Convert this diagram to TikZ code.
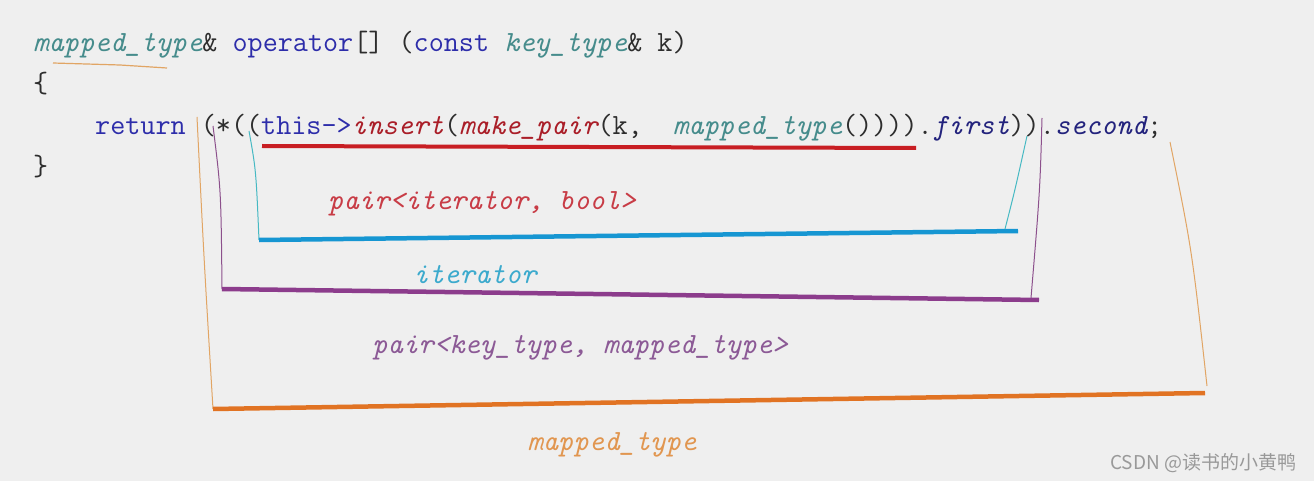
\documentclass[tikz,border=0pt]{standalone}
\usepackage{fontspec}
\newfontfamily\cjk{Noto Sans CJK SC}
\usetikzlibrary{positioning}
\definecolor{bg}{RGB}{239,239,239}
\definecolor{ink}{RGB}{45,45,45}
\definecolor{kwblue}{RGB}{45,45,170}
\definecolor{typeteal}{RGB}{70,140,140}
\definecolor{funred}{RGB}{170,30,40}
\definecolor{memblue}{RGB}{35,35,125}
\definecolor{redbar}{RGB}{200,30,35}
\definecolor{cyanbar}{RGB}{22,150,210}
\definecolor{cyanarm}{RGB}{70,185,195}
\definecolor{purpbar}{RGB}{140,60,140}
\definecolor{purparm}{RGB}{140,80,140}
\definecolor{orangebar}{RGB}{225,115,35}
\definecolor{orangearm}{RGB}{225,165,100}
\definecolor{redlbl}{RGB}{200,60,70}
\definecolor{cyanlbl}{RGB}{60,170,205}
\definecolor{purplbl}{RGB}{140,90,150}
\definecolor{orangelbl}{RGB}{225,150,80}
\newcommand\ckw[1]{{\color{kwblue}#1}}
\newcommand\ctype[1]{{\itshape\color{typeteal}#1}}
\newcommand\cfun[1]{{\itshape\color{funred}#1}}
\newcommand\cmem[1]{{\itshape\color{memblue}#1}}
\begin{document}
\begin{tikzpicture}[x=1pt,y=-1pt,
code/.style={anchor=base west,inner sep=0pt,text=ink,
  font=\ttfamily\fontsize{29.3}{35}\selectfont},
note/.style={anchor=base,inner sep=0pt,
  font=\ttfamily\itshape\fontsize{29.3}{35}\selectfont},
bar/.style={line width=4.5pt},
arm/.style={line width=1pt}]
\fill[bg] (0,0) rectangle (1314,481);
\useasboundingbox (0,0) rectangle (1314,481);
% the code
\node[code] (L1) at (33,52) {\ctype{mapped\_type}\& \ckw{operator}[] (\ckw{const} \ctype{key\_type}\& k)};
\node[code] (L2) at (33,93) {\{};
\node[code] (L3) at (95,135) {\ckw{return} (*((\ckw{this->}\cfun{insert}(\cfun{make\_pair}(k,\ \ \ctype{mapped\_type}()))).\cmem{first})).\cmem{second};};
\node[code] (L4) at (33,176) {\}};
% the notes
\node[note,text=redlbl] (N1) at (482,210) {pair<iterator, bool>};
\node[note,text=cyanlbl] (N2) at (475,283) {iterator};
\node[note,text=purplbl] (N3) at (580,353) {pair<key\_type, mapped\_type>};
\node[note,text=orangelbl] (N4) at (612,450) {mapped\_type};
\node[anchor=base west,inner sep=0pt,text=gray!80,
  font=\cjk\fontsize{19}{22}\selectfont] (WM) at (1110,469) {CSDN @读书的小黄鸭};
% bracket corners
\coordinate (u1) at (53,63);
\coordinate (u2) at (167,68);
\coordinate (r1) at (262,146);
\coordinate (r2) at (916,148);
\coordinate (c1) at (249,131);
\coordinate (c2) at (259,240);
\coordinate (c3) at (1018,231);
\coordinate (c4) at (1005,229);
\coordinate (c5) at (1027,136);
\coordinate (p1) at (213,126);
\coordinate (p2) at (222,289);
\coordinate (p3) at (1039,300);
\coordinate (p4) at (1031,298);
\coordinate (p5) at (1042,118);
\coordinate (o1) at (197,117);
\coordinate (o2) at (213,409);
\coordinate (o3) at (1205,393);
\coordinate (o4) at (1207,386);
\coordinate (o5) at (1170,142);
% the strokes
\draw[orangearm,line width=1.2pt] (u1) -- (120,65) -- (u2);
\draw[bar,redbar,line width=4pt] (r1) -- (r2);
\draw[arm,cyanarm] (c1) .. controls (256,170) .. (c2);
\draw[bar,cyanbar] (c2) -- (c3);
\draw[arm,cyanarm] (c4) .. controls (1015,190) .. (c5);
\draw[arm,purparm] (p1) .. controls (221,190) .. (p2);
\draw[bar,purpbar] (p2) -- (p3);
\draw[arm,purparm] (p4) .. controls (1040,190) .. (p5);
\draw[arm,orangearm] (o1) .. controls (204,260) .. (o2);
\draw[bar,orangebar] (o2) -- (o3);
\draw[arm,orangearm] (o4) .. controls (1192,250) .. (o5);
\end{tikzpicture}
\end{document}
